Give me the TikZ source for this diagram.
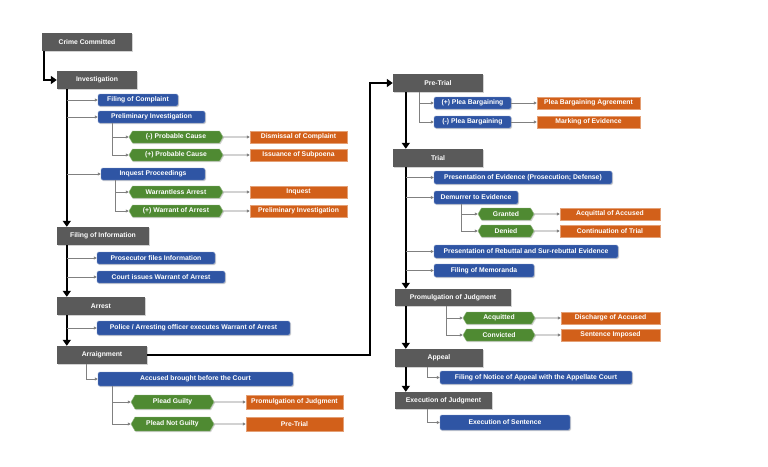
\documentclass[tikz,border=0pt]{standalone}
\usepackage{fontspec}
\setmainfont{Liberation Sans}
\usetikzlibrary{shapes.symbols,shadows,arrows.meta,calc}
\definecolor{cgray}{HTML}{5A5A5A}
\definecolor{cblue}{HTML}{2F55A4}
\definecolor{cgreen}{HTML}{4F8A32}
\definecolor{corange}{HTML}{D2601A}
\tikzset{
 base/.style={text=white, font=\fontsize{6.8}{7}\selectfont\bfseries, inner sep=1pt, drop shadow={opacity=0.35,shadow xshift=1pt,shadow yshift=-1pt}},
 gbox/.style={base, fill=cgray, rectangle},
 bbox/.style={base, fill=cblue, rectangle, rounded corners=1.5pt, draw=cblue!60!white},
 grbox/.style={base, fill=cgreen, shape=signal, signal to=east and west, signal pointer angle=120, draw=cgreen!60!white},
 obox/.style={base, fill=corange, rectangle, draw=corange!60!white},
 trunk/.style={line width=2.6pt, -{Triangle[length=6pt,width=8pt]}},
 br/.style={draw=gray, line width=0.8pt, -{Triangle[length=3pt,width=3pt]}},
}
\newcommand\mkbox[7]{\node[#1, minimum width={(#4-#3)*1pt}, minimum height={(#6-#5)*1pt}] (#2) at ({(#3+#4)/2},{(#5+#6)/2}) {#7};}
\begin{document}
\begin{tikzpicture}[x=1pt,y=-1pt]
\useasboundingbox[fill=white] (0,0) rectangle (768,466);
% gray
\mkbox{gbox}{cc}{42}{132}{33}{51}{Crime Committed}
\mkbox{gbox}{inv}{57}{137}{71}{89}{Investigation}
\mkbox{gbox}{fi}{57}{149}{227}{245}{Filing of Information}
\mkbox{gbox}{ar}{57}{145}{297}{315}{Arrest}
\mkbox{gbox}{arr}{57}{147}{346}{364}{Arraignment}
\mkbox{gbox}{pt}{393}{483}{74}{92}{Pre-Trial}
\mkbox{gbox}{tr}{393}{483}{149}{167}{Trial}
\mkbox{gbox}{pj}{395}{511}{289}{306}{Promulgation of Judgment}
\mkbox{gbox}{ap}{395}{483}{349}{367}{Appeal}
\mkbox{gbox}{ej}{395}{492}{392}{409}{Execution of Judgment}
% left blue
\mkbox{bbox}{fc}{98}{178}{94}{106}{Filing of Complaint}
\mkbox{bbox}{pi}{98}{205}{111}{123}{Preliminary Investigation}
\mkbox{bbox}{ip}{101}{205}{168}{180}{Inquest Proceedings}
\mkbox{bbox}{pf}{97}{215}{252}{264}{Prosecutor files Information}
\mkbox{bbox}{ciw}{97}{225}{271}{283}{Court issues Warrant of Arrest}
\mkbox{bbox}{po}{97}{290}{321}{335}{Police / Arresting officer executes Warrant of Arrest}
\mkbox{bbox}{ab}{98}{293}{372}{386}{Accused brought before the Court}
% left green/orange
\mkbox{grbox}{npc}{129}{223}{131}{143}{(-) Probable Cause}
\mkbox{grbox}{ppc}{129}{223}{149}{161}{(+) Probable Cause}
\mkbox{grbox}{wa}{129}{223}{186}{198}{Warrantless Arrest}
\mkbox{grbox}{pwa}{129}{223}{205}{217}{(+) Warrant of Arrest}
\mkbox{obox}{dc}{250}{347}{131}{143}{Dismissal of Complaint}
\mkbox{obox}{is}{250}{347}{149}{161}{Issuance of Subpoena}
\mkbox{obox}{inq}{250}{347}{186}{198}{Inquest}
\mkbox{obox}{pin}{250}{347}{205}{217}{Preliminary Investigation}
\mkbox{grbox}{pg}{131}{214}{395}{409}{Plead Guilty}
\mkbox{grbox}{png}{131}{214}{417}{431}{Plead Not Guilty}
\mkbox{obox}{poj}{246}{343}{395}{409}{Promulgation of Judgment}
\mkbox{obox}{ptr}{246}{343}{417}{431}{Pre-Trial}
% right
\mkbox{bbox}{ppb}{434}{511}{97}{109}{(+) Plea Bargaining}
\mkbox{bbox}{npb}{434}{511}{116}{128}{(-) Plea Bargaining}
\mkbox{obox}{pba}{537}{640}{97}{109}{Plea Bargaining Agreement}
\mkbox{obox}{me}{537}{640}{116}{128}{Marking of Evidence}
\mkbox{bbox}{pe}{434}{612}{171}{184}{Presentation of Evidence (Prosecution; Defense)}
\mkbox{bbox}{de}{434}{518}{191}{204}{Demurrer to Evidence}
\mkbox{grbox}{gr}{478}{534}{208}{220}{Granted}
\mkbox{grbox}{dn}{478}{534}{225}{237}{Denied}
\mkbox{obox}{aa}{560}{660}{208}{220}{Acquittal of Accused}
\mkbox{obox}{ct}{560}{660}{225}{237}{Continuation of Trial}
\mkbox{bbox}{prs}{434}{618}{245}{258}{Presentation of Rebuttal and Sur-rebuttal Evidence}
\mkbox{bbox}{fm}{434}{534}{264}{277}{Filing of Memoranda}
\mkbox{grbox}{acq}{463}{535}{312}{324}{Acquitted}
\mkbox{grbox}{cv}{463}{535}{329}{341}{Convicted}
\mkbox{obox}{da}{561}{660}{312}{324}{Discharge of Accused}
\mkbox{obox}{si}{561}{660}{329}{341}{Sentence Imposed}
\mkbox{bbox}{fn}{440}{632}{371}{384}{Filing of Notice of Appeal with the Appellate Court}
\mkbox{bbox}{es}{440}{570}{415}{430}{Execution of Sentence}
% trunks
\draw[trunk] ($(cc.south west)+(2,0)$) |- (inv.west);
\draw[trunk] ($(inv.south west)+(10,0)$) -- ($(fi.north west)+(10,0)$);
\draw[trunk] ($(fi.south west)+(10,0)$) -- ($(ar.north west)+(10,0)$);
\draw[trunk] ($(ar.south west)+(10,0)$) -- ($(arr.north west)+(10,0)$);
\draw[trunk] (arr.east) -- (370,355) |- (pt.west);
\draw[trunk] ($(pt.south west)+(13,0)$) -- ($(tr.north west)+(13,0)$);
\draw[trunk] ($(tr.south west)+(13,0)$) -- ($(pj.north west)+(11,0)$);
\draw[trunk] ($(pj.south west)+(11,0)$) -- ($(ap.north west)+(11,0)$);
\draw[trunk] ($(ap.south west)+(11,0)$) -- ($(ej.north west)+(11,0)$);
% branches left
\foreach \t in {fc,pi,ip} \draw[br] (67,0 |- \t.west) -- (\t.west);
\foreach \t in {pf,ciw} \draw[br] (67,0 |- \t.west) -- (\t.west);
\draw[br] (67,0 |- po.west) -- (po.west);
\foreach \t in {npc,ppc} \draw[br] ($(pi.south west)+(15,0)$) |- (\t.west);
\foreach \t in {wa,pwa} \draw[br] ($(ip.south west)+(15,0)$) |- (\t.west);
\draw[br] (npc) -- (dc); \draw[br] (ppc) -- (is);
\draw[br] (wa) -- (inq); \draw[br] (pwa) -- (pin);
\draw[br] ($(arr.south west)+(30,0)$) |- (ab.west);
\foreach \t in {pg,png} \draw[br] ($(ab.south west)+(15,0)$) |- (\t.west);
\draw[br] (pg) -- (poj); \draw[br] (png) -- (ptr);
% branches right
\foreach \t in {ppb,npb} \draw[br] ($(pt.south west)+(27,0)$) |- (\t.west);
\draw[br] (ppb) -- (pba); \draw[br] (npb) -- (me);
\foreach \t in {pe,de,prs,fm} \draw[br] (406,0 |- \t.west) -- (\t.west);
\foreach \t in {gr,dn} \draw[br] ($(de.south west)+(28,0)$) |- (\t.west);
\draw[br] (gr) -- (aa); \draw[br] (dn) -- (ct);
\foreach \t in {acq,cv} \draw[br] ($(pj.south west)+(52,0)$) |- (\t.west);
\draw[br] (acq) -- (da); \draw[br] (cv) -- (si);
\draw[br] ($(ap.south west)+(33,0)$) |- (fn.west);
\draw[br] ($(ej.south west)+(33,0)$) |- (es.west);
\end{tikzpicture}
\end{document}
